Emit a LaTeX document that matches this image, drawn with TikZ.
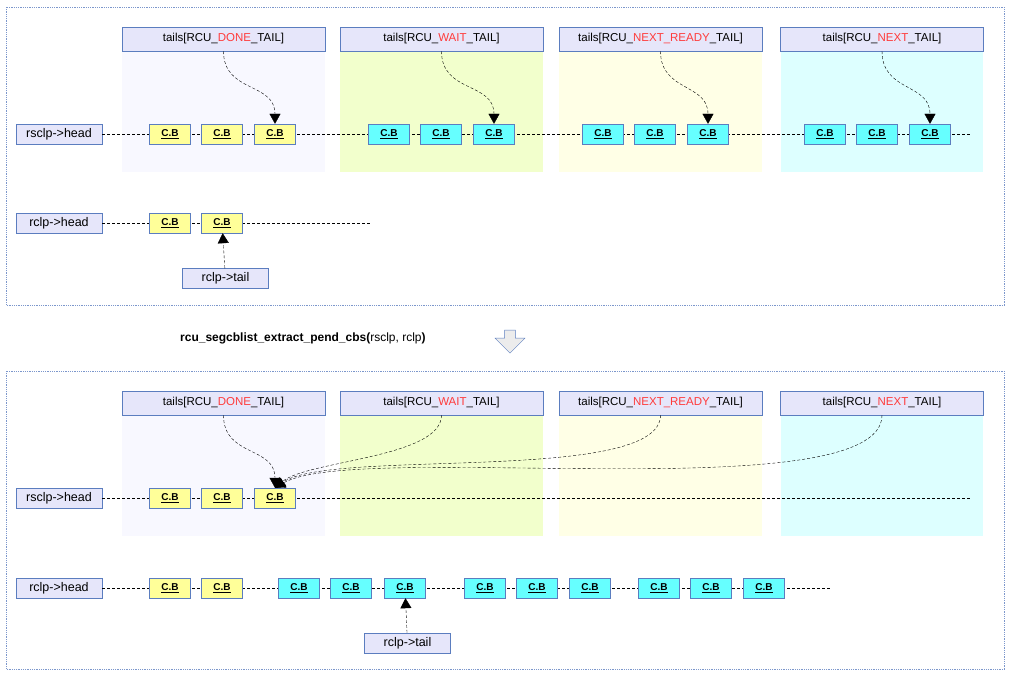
\documentclass[tikz,border=0pt]{standalone}
\usepackage{fontspec}
\setmainfont{Liberation Sans}
\usetikzlibrary{arrows.meta,shapes.arrows}
\definecolor{bd}{HTML}{5B7DBF}
\definecolor{hdr}{HTML}{E6E6FA}
\definecolor{rd}{HTML}{FF3B3B}
\definecolor{p1}{HTML}{F8F8FF}
\definecolor{p2}{HTML}{F2FFCC}
\definecolor{p3}{HTML}{FFFFE6}
\definecolor{p4}{HTML}{DDFFFF}
\definecolor{cy}{HTML}{66FFFF}
\definecolor{ye}{HTML}{FFFF99}
\begin{document}
\begin{tikzpicture}[x=1pt,y=-1pt,
 frame/.style={draw=bd!80,densely dotted,thick},
 hd/.style={draw=bd,fill=hdr,minimum width=203pt,minimum height=24pt,inner sep=0,font=\fontsize{11.5}{13}\selectfont},
 lbl/.style={draw=bd,fill=hdr,minimum width=86pt,minimum height=20pt,inner sep=0,font=\fontsize{12.5}{14}\selectfont},
 cby/.style={draw=bd,fill=ye,minimum width=41pt,minimum height=20pt,inner sep=0,font=\fontsize{10}{11}\selectfont\bfseries,text=black},
 cbc/.style={cby,fill=cy},
 ln/.style={densely dashed,thin},
 ar/.style={densely dashed,thin,-{Triangle[length=10pt,width=11pt]}}]
\useasboundingbox (0,0) rectangle (1011,674);
\newcommand{\cbt}{\underline{C.B}}
% frames
\draw[frame] (6,7) rectangle (1004,305);
\draw[frame] (6,371) rectangle (1004,669);
% panels
\foreach \yy in {51,415}{
 \fill[p1] (122,\yy) rectangle (325,\yy+121);
 \fill[p2] (340,\yy) rectangle (543,\yy+121);
 \fill[p3] (559,\yy) rectangle (762,\yy+121);
 \fill[p4] (781,\yy) rectangle (983,\yy+121);
}
% ---------- top ----------
\node[hd] (h1) at (223.5,39) {tails[RCU\_\textcolor{rd}{DONE}\_TAIL]};
\node[hd] (h2) at (441.5,39) {tails[RCU\_\textcolor{rd}{WAIT}\_TAIL]};
\node[hd] (h3) at (660.5,39) {tails[RCU\_\textcolor{rd}{NEXT\_READY}\_TAIL]};
\node[hd] (h4) at (882,39) {tails[RCU\_\textcolor{rd}{NEXT}\_TAIL]};
\node[lbl] (rs) at (59,134) {rsclp->head};
\coordinate (rsend) at (972,134);
\draw[ln] (rs) -- (rsend);
\foreach \n/\x/\s in {a1/170/cby,a2/222/cby,a3/275/cby,b1/389/cbc,b2/441/cbc,b3/494/cbc,c1/603/cbc,c2/655/cbc,c3/708/cbc,d1/825/cbc,d2/877/cbc,d3/930/cbc}
 \node[\s] (\n) at (\x,134) {\cbt};
\draw[ar] (h1.south) to[out=-90,in=90,looseness=1.2] (a3.north);
\draw[ar] (h2.south) to[out=-90,in=90,looseness=1.2] (b3.north);
\draw[ar] (h3.south) to[out=-90,in=90,looseness=1.2] (c3.north);
\draw[ar] (h4.south) to[out=-90,in=90,looseness=1.2] (d3.north);
\node[lbl] (rc) at (59,223) {rclp->head};
\coordinate (rcend) at (370,223);
\draw[ln] (rc) -- (rcend);
\node[cby] (e1) at (170,223) {\cbt};
\node[cby] (e2) at (222,223) {\cbt};
\node[lbl] (rt) at (225.5,278.5) {rclp->tail};
\draw[ar] (rt) -- (e2);
% ---------- middle ----------
\node[anchor=west,inner sep=0,font=\fontsize{12}{14}\selectfont] (tt) at (180,338) {\textbf{rcu\_segcblist\_extract\_pend\_cbs(}rsclp, rclp\textbf{)}};
\node[single arrow,shape border rotate=270,draw=bd,fill=gray!15,minimum width=30pt,minimum height=23pt,single arrow head extend=4pt,inner sep=2pt] (bigar) at (510,339) {};
% ---------- bottom ----------
\node[hd] (g1) at (223.5,403) {tails[RCU\_\textcolor{rd}{DONE}\_TAIL]};
\node[hd] (g2) at (441.5,403) {tails[RCU\_\textcolor{rd}{WAIT}\_TAIL]};
\node[hd] (g3) at (660.5,403) {tails[RCU\_\textcolor{rd}{NEXT\_READY}\_TAIL]};
\node[hd] (g4) at (882,403) {tails[RCU\_\textcolor{rd}{NEXT}\_TAIL]};
\node[lbl] (rs2) at (59,498) {rsclp->head};
\coordinate (rs2end) at (972,498);
\draw[ln] (rs2) -- (rs2end);
\node[cby] (f1) at (170,498) {\cbt};
\node[cby] (f2) at (222,498) {\cbt};
\node[cby] (f3) at (275,498) {\cbt};
\draw[ar] (g1.south) to[out=-90,in=90,looseness=1.2] (f3.north);
\draw[ar] (g2.south) to[out=-90,in=40,looseness=0.6] (f3.north);
\draw[ar] (g3.south) to[out=-90,in=35,looseness=0.45] (f3.north);
\draw[ar] (g4.south) to[out=-90,in=30,looseness=0.4] (f3.north);
\node[lbl] (rc2) at (59,588) {rclp->head};
\coordinate (rc2end) at (830,588);
\draw[ln] (rc2) -- (rc2end);
\foreach \n/\x/\s in {k1/170/cby,k2/222/cby,k3/299/cbc,k4/351/cbc,k5/405/cbc,k6/485/cbc,k7/537/cbc,k8/590/cbc,k9/659/cbc,k10/711/cbc,k11/764/cbc}
 \node[\s] (\n) at (\x,588) {\cbt};
\node[lbl] (rt2) at (407.5,643) {rclp->tail};
\draw[ar] (rt2) -- (k5);
\end{tikzpicture}
\end{document}
